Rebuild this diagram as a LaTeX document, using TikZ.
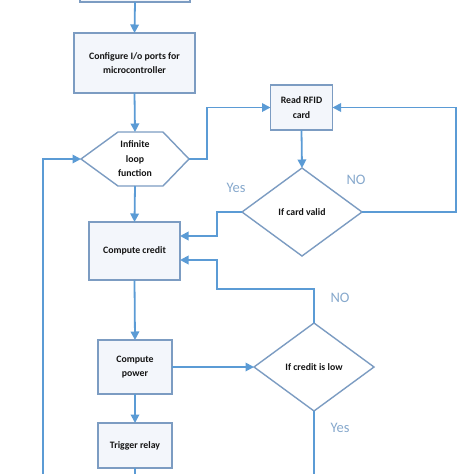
\documentclass[tikz,border=0pt]{standalone}
\usepackage{fontspec}
\setmainfont{Carlito}
\usetikzlibrary{arrows.meta,shapes.geometric,calc}
\definecolor{linec}{HTML}{5B9BD5}
\definecolor{borderc}{HTML}{7C9CC2}
\definecolor{fillc}{HTML}{F3F6FB}
\definecolor{labc}{HTML}{86A8CC}
\tikzset{
  txt/.style={font=\fontsize{9.8}{14.5}\selectfont\bfseries, text=black!92},
  boxnode/.style={draw=borderc, line width=1.4pt, fill=fillc, inner sep=0pt, outer sep=0pt, align=center, txt},
  dianode/.style={diamond, draw=borderc, line width=1.4pt, fill=white, inner sep=0pt, outer sep=0pt, minimum width=120pt, minimum height=88pt, txt},
  hexnode/.style={inner sep=0pt, outer sep=0pt, minimum width=108pt, minimum height=54pt, align=center, txt},
  flow/.style={draw=linec, line width=1.8pt},
  arrowflow/.style={flow, -{Triangle[length=8.5pt,width=8.5pt]}},
  lab/.style={text=labc, font=\fontsize{14.5}{16}\selectfont}
}
\begin{document}
\begin{tikzpicture}[x=1pt,y=-1pt]
\useasboundingbox (0,0) rectangle (474,474);
\node[boxnode, minimum width=110pt, minimum height=22pt] (start) at (135,-9) {};
\node[boxnode, minimum width=121pt, minimum height=60pt] (config) at (134.5,63) {Configure I/o ports for\\microcontroller};
\node[hexnode] (loop) at (135,159) {};
\draw[borderc, line width=1.4pt, fill=white, line join=miter]
  (loop.west) -- ($(loop.north west)+(37,0)$) -- ($(loop.north east)+(-26,0)$) -- (loop.east)
  -- ($(loop.south east)+(-26,0)$) -- ($(loop.south west)+(37,0)$) -- cycle;
\node[hexnode] (looptext) at (loop) {Infinite\\loop\\function};
\node[boxnode, minimum width=62pt, minimum height=45pt] (rfid) at (301.5,107.5) {Read RFID\\card};
\node[dianode] (valid) at (302,212) {If card valid};
\node[boxnode, minimum width=91pt, minimum height=58pt] (credit) at (134.5,251) {Compute credit};
\node[boxnode, minimum width=74pt, minimum height=54pt] (power) at (135,367) {Compute\\power};
\node[dianode] (low) at (314,367) {If credit is low};
\node[boxnode, minimum width=74pt, minimum height=45pt] (relay) at (135,445.5) {Trigger relay};
\coordinate (relaybot) at (135,480);
\coordinate (lowbot) at (314,480);
\coordinate (leftbot) at (43,480);

\draw[arrowflow] (start.south) -- (config.north);
\draw[arrowflow] (config.south) -- (loop.north);
\draw[arrowflow] (loop.south) -- (credit.north);
\draw[arrowflow] (loop.east) -- (207,159) |- (rfid.west);
\draw[arrowflow] (rfid.south) -- (valid.north);
\draw[arrowflow] (valid.east) -- (456,212) |- (rfid.east);
\draw[arrowflow] (valid.west) -- (217,212) |- ($(credit.east)+(0,-15)$);
\draw[arrowflow] (low.north) -- (314,289) -- (217,289) |- ($(credit.east)+(0,9)$);
\draw[arrowflow] (credit.south) -- (power.north);
\draw[arrowflow] (power.east) -- (low.west);
\draw[arrowflow] (power.south) -- (relay.north);
\draw[flow] (relay.south) -- (relaybot);
\draw[flow] (low.south) -- (lowbot);
\draw[arrowflow] (leftbot) |- (loop.west);

\node[lab] (yes1) at (236,188) {Yes};
\node[lab] (no1) at (356,180) {NO};
\node[lab] (no2) at (340,298) {NO};
\node[lab] (yes2) at (340,428) {Yes};
\end{tikzpicture}
\end{document}
